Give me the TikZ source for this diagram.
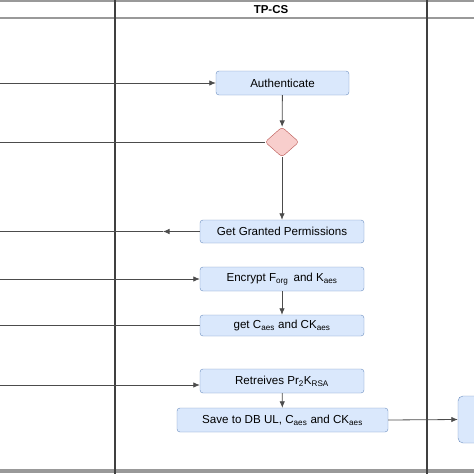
\documentclass[tikz,border=0pt]{standalone}
\usepackage{fontspec}
\setmainfont{Liberation Sans}
\usetikzlibrary{arrows.meta,shapes.geometric}

\definecolor{boxfill}{HTML}{DAE8FC}
\definecolor{boxline}{HTML}{6C8EBF}
\definecolor{decfill}{HTML}{F8CECC}
\definecolor{decline}{HTML}{B85450}

\begin{document}
\begin{tikzpicture}[x=1pt,y=-1pt,
  box/.style={draw=boxline, fill=boxfill, rounded corners=3pt, inner sep=0pt,
    minimum width=164pt, minimum height=24pt, font=\fontsize{11.6}{13}\selectfont},
  decision/.style={diamond, draw=decline, fill=decfill, rounded corners=3pt, inner sep=0pt,
    minimum width=34pt, minimum height=30pt},
  flow/.style={draw=black!70, line width=0.8pt},
  arr/.style={flow, -{Latex[length=6.5pt,width=5.5pt]}},
  lane/.style={draw=black!75, line width=2pt},
  rule/.style={draw=black!40, line width=2.5pt},
  lanetitle/.style={font=\bfseries\fontsize{11.5}{13}\selectfont}
]
\useasboundingbox (0,0) rectangle (474,474);
\clip (0,0) rectangle (474,474);

% lanes
\draw [rule] (0,1) -- (474,1);
\draw [rule, line width=2pt] (0,17.5) -- (474,17.5);
\draw [rule, line width=3.5pt] (0,471) -- (474,471);
\draw [lane] (115,0) -- (115,474);
\draw [lane] (427,0) -- (427,474);
\node [lanetitle] (tpcs) at (271,10) {TP-CS};

% steps
\node [box, minimum width=133pt] (auth) at (282.5,83) {Authenticate};
\node [decision] (check) at (282,142) {};
\node [box, minimum height=23pt] (perm) at (282,231.5) {Get Granted Permissions};
\node [box] (enc) at (282,279) {Encrypt F\textsubscript{org}\, and K\textsubscript{aes}};
\node [box, minimum height=21pt] (getc) at (282,325.5) {get C\textsubscript{aes} and CK\textsubscript{aes}};
\node [box] (retr) at (282,381) {Retreives Pr\textsubscript{2}K\textsubscript{RSA}};
\node [box, minimum width=211pt] (save) at (282.5,420) {Save to DB UL, C\textsubscript{aes} and CK\textsubscript{aes}};
\node [box, minimum width=66pt, minimum height=47pt, rounded corners=5pt] (store) at (491,419.5) {};

% free ends
\coordinate (authin) at (0,83);
\coordinate (checkout) at (0,142);
\coordinate (permtip) at (163,231.5);
\coordinate (permout) at (0,231.5);
\coordinate (encin) at (0,279);
\coordinate (getcout) at (0,325.5);
\coordinate (retrin) at (0,385);

% connectors
\draw [arr] (authin) -- (auth.west);
\draw [arr] (auth) -- (check);
\draw [flow] (check.west) -- (checkout);
\draw [arr] (check) -- (perm);
\draw [arr] (perm.west) -- (permtip);
\draw [flow] (permtip) -- (permout);
\draw [arr] (encin) -- (enc.west);
\draw [arr] (enc) -- (getc);
\draw [flow] (getc.west) -- (getcout);
\draw [arr] (retrin) -- (retrin -| retr.west);
\draw [arr] (retr) -- (save);
\draw [arr] (save.east) -- (store.west);
\end{tikzpicture}
\end{document}
